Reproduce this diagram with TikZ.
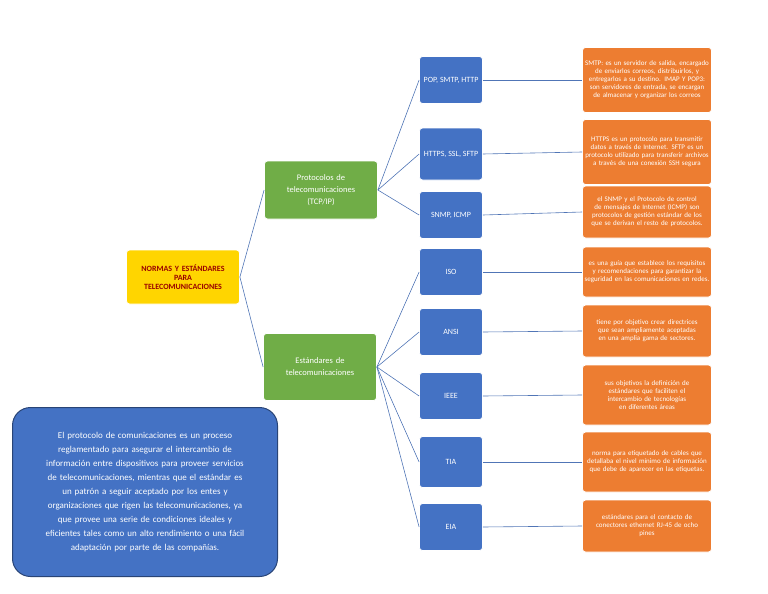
\documentclass[tikz,border=0pt]{standalone}
\usepackage{fontspec}
\setmainfont{Carlito}
\definecolor{cg}{HTML}{70AD47}
\definecolor{cb}{HTML}{4472C4}
\definecolor{co}{HTML}{ED7D31}
\definecolor{cy}{HTML}{FFD500}
\begin{document}
\begin{tikzpicture}[x=1pt,y=-1pt,
 box/.style={draw=white,line width=0.8pt,rounded corners=3pt,align=center,text=white,inner sep=2pt,execute at begin node={\hyphenpenalty=10000\exhyphenpenalty=10000}},
 yel/.style={box,fill=cy,text=red!60!black,font=\bfseries\fontsize{8}{9}\selectfont,minimum width=113pt,minimum height=54pt,text width=105pt},
 grn/.style={box,fill=cg,minimum width=113pt,minimum height=58pt,text width=95pt,font=\fontsize{8.5}{12}\selectfont},
 blu/.style={box,fill=cb,minimum width=63pt,minimum height=47pt,font=\fontsize{8}{9}\selectfont},
 org/.style={box,fill=co,minimum width=129pt,text width=125pt,font=\fontsize{7}{8}\selectfont,inner sep=1pt},
 ln/.style={draw=cb!80!gray,line width=0.6pt}]
\useasboundingbox (0,0) rectangle (768,594);
\node[yel] (r) at (183,277) {NORMAS Y ESTÁNDARES\\PARA\\TELECOMUNICACIONES};
\node[grn] (g1) at (321,190) {Protocolos de\\telecomunicaciones\\(TCP/IP)};
\node[grn,minimum height=67pt] (g2) at (320,367) {Estándares de\\telecomunicaciones};
\node[blu] (b1) at (451,80) {POP, SMTP, HTTP};
\node[blu,minimum height=52pt] (b2) at (451,154) {HTTPS, SSL, SFTP};
\node[blu] (b3) at (451,215) {SNMP, ICMP};
\node[blu] (b4) at (451,272) {ISO};
\node[blu] (b5) at (451,332) {ANSI};
\node[blu] (b6) at (451,396) {IEEE};
\node[blu,minimum height=51pt] (b7) at (451,462) {TIA};
\node[blu] (b8) at (451,527) {EIA};
\node[org,minimum height=65pt] (o1) at (647,80) {SMTP: es un servidor de salida, encargado de enviarlos correos, distribuirlos, y entregarlos a su destino. IMAP Y POP3: son servidores de entrada, se encargan de almacenar y organizar los correos};
\node[org,minimum height=65pt] (o2) at (647,152) {HTTPS es un protocolo para transmitir datos a través de Internet. SFTP es un protocolo utilizado para transferir archivos a través de una conexión SSH segura};
\node[org,minimum height=52pt] (o3) at (647,212) {el SNMP y el Protocolo de control de mensajes de Internet (ICMP) son protocolos de gestión estándar de los que se derivan el resto de protocolos.};
\node[org,minimum height=50pt] (o4) at (647,272) {es una guía que establece los requisitos y recomendaciones para garantizar la seguridad en las comunicaciones en redes.};
\node[org,minimum height=52pt] (o5) at (647,331) {tiene por objetivo crear directrices que sean ampliamente aceptadas en una amplia gama de sectores.};
\node[org,minimum height=60pt,text width=105pt] (o6) at (647,395) {sus objetivos la definición de estándares que faciliten el intercambio de tecnologías en diferentes áreas};
\node[org,minimum height=60pt] (o7) at (647,462) {norma para etiquetado de cables que detallaba el nivel mínimo de información que debe de aparecer en las etiquetas.};
\node[org,minimum height=52pt] (o8) at (647,526) {estándares para el contacto de\\conectores ethernet RJ-45 de ocho\\pines};
\draw[ln] (r.east) -- (g1.west);
\draw[ln] (r.east) -- (g2.west);
\foreach \b in {b1,b2,b3} \draw[ln] (g1.east) -- (\b.west);
\foreach \b in {b4,b5,b6,b7,b8} \draw[ln] (g2.east) -- (\b.west);
\foreach \i in {1,...,8} \draw[ln] (b\i.east) -- (o\i.west);
\node[draw=cb!60!black,line width=1pt,fill=cb,rounded corners=18pt,minimum width=265pt,minimum height=169pt,text width=250pt,align=center,text=white,font=\fontsize{9}{14}\selectfont] (big) at (145,492) {El protocolo de comunicaciones es un proceso\\reglamentado para asegurar el intercambio de\\información entre dispositivos para proveer servicios\\de telecomunicaciones, mientras que el estándar es\\un patrón a seguir aceptado por los entes y\\organizaciones que rigen las telecomunicaciones, ya\\que provee una serie de condiciones ideales y\\eficientes tales como un alto rendimiento o una fácil\\adaptación por parte de las compañías.};
\end{tikzpicture}
\end{document}
